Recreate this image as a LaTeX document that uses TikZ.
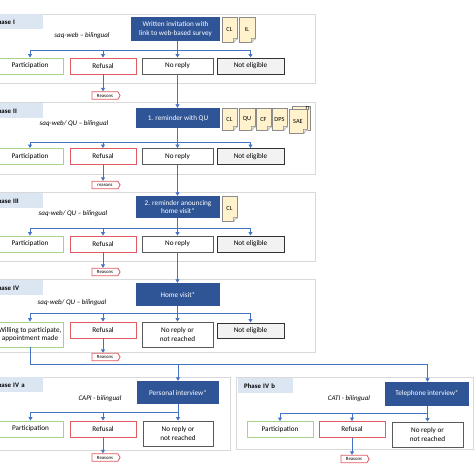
\documentclass[tikz,border=0pt]{standalone}
\usepackage{fontspec}
\setmainfont{Carlito}
\usetikzlibrary{arrows.meta,shapes.symbols}
\definecolor{navy}{HTML}{2F5597}
\definecolor{flowblue}{HTML}{4472C4}
\definecolor{lblue}{HTML}{DCE6F2}
\definecolor{pgreen}{HTML}{A9D18E}
\definecolor{rred}{HTML}{E05A61}
\definecolor{docfill}{HTML}{FFF2CC}
\tikzset{
	frame/.style={draw=black!15, line width=0.8pt},
	phaselbl/.style={fill=lblue, anchor=north west, text width=43pt, inner xsep=6pt, inner ysep=0pt, minimum height=15pt, align=left, font=\fontsize{6.8}{8}\selectfont\bfseries},
	mode/.style={font=\fontsize{7}{8}\selectfont\itshape},
	task/.style={fill=navy, text=white, inner sep=0pt, align=center, font=\fontsize{7.2}{8.6}\selectfont},
	res/.style={draw, fill=white, line width=0.9pt, inner sep=0pt, minimum width=66pt, minimum height=16pt, align=center, font=\fontsize{7.2}{8.6}\selectfont},
	part/.style={res, draw=pgreen},
	refu/.style={res, draw=rred},
	noreply/.style={res, draw=black!65, minimum width=71pt},
	noteligible/.style={res, draw=black!80, fill=black!5, line width=1pt, minimum width=67pt},
	doc/.style={draw=black!45, fill=docfill, line width=0.6pt, inner sep=0pt, minimum width=15pt, minimum height=25pt, font=\fontsize{6.3}{7}\selectfont},
	reasons/.style={signal, signal to=east, signal pointer angle=120, draw=rred, fill=white, line width=0.8pt, inner sep=0.5pt, minimum width=28pt, minimum height=7.5pt, font=\fontsize{4.8}{5}\selectfont},
	line/.style={draw=flowblue, line width=1pt},
	arr/.style={line, -{Triangle[width=4pt,length=3.5pt]}},
}

\begin{document}
\begin{tikzpicture}[x=1pt, y=-1pt]
		%%%%% START %%%%%
		\useasboundingbox[fill=white] (0,0) rectangle (474,474);
		
		% phase frames
		\draw[frame] (-12,14) rectangle (315,83);
		\draw[frame] (-12,102) rectangle (315,174);
		\draw[frame] (-12,192) rectangle (315,261);
		\draw[frame] (-12,279) rectangle (315,352);
		\draw[frame] (-12,377) rectangle (230,450);
		\draw[frame] (236,377) rectangle (473,449);
		
		\node[phaselbl] (ph1) at (-12,14) {Phase I};
		\node[phaselbl] (ph2) at (-12,103) {Phase II};
		\node[phaselbl] (ph3) at (-12,193) {Phase III};
		\node[phaselbl] (ph4) at (-12,280) {Phase IV};
		\node[phaselbl] (ph5) at (-12,377) {Phase IV a};
		\node[phaselbl] (ph6) at (238,378) {Phase IV b};
		
		\node[mode] (m1) at (82,36) {saq-web -- bilingual};
		\node[mode] (m2) at (74,124) {saq-web/ QU -- bilingual};
		\node[mode] (m3) at (73,214) {saq-web/ QU -- bilingual};
		\node[mode] (m4) at (72,303) {saq-web/ QU -- bilingual};
		\node[mode] (m5) at (100,399) {CAPI - bilingual};
		\node[mode] (m6) at (349,399) {CATI - bilingual};
		
		% contact steps
		\node[task, minimum width=89pt, minimum height=24pt] (b1) at (175.5,29) {Written invitation with\\link to web-based survey};
		\node[task, minimum width=84pt, minimum height=20pt] (b2) at (178,118) {1. reminder with QU};
		\node[task, minimum width=84pt, minimum height=22pt] (b3) at (178,207) {2. reminder anouncing\\home visit*};
		\node[task, minimum width=84pt, minimum height=23pt] (b4) at (178,294.5) {Home visit*};
		\node[task, minimum width=82pt, minimum height=23pt] (b5) at (178,392.5) {Personal interview*};
		\node[task, minimum width=84pt, minimum height=24pt] (b6) at (427,394) {Telephone interview*};
		
		% documents
		\node[doc] (cl1) at (229.5,29.5) {CL};
		\node[doc, minimum width=16pt] (il1) at (247,29.5) {IL};
		\node[doc, minimum height=22pt] (cl2) at (229.5,119) {CL};
		\node[doc, minimum width=16pt, minimum height=22pt] (qu2) at (247,119) {QU};
		\node[doc, minimum height=22pt] (cf2) at (263.5,119) {CF};
		\node[doc, minimum height=22pt] (dps2) at (279.5,119) {DPS};
		\node[doc, minimum width=18pt, minimum height=24pt] (d2) at (301,118) {};
		\node[font=\fontsize{6.3}{7}\selectfont, anchor=north east, inner sep=0.6pt] (d2t) at (d2.north east) {D};
		\node[doc, minimum width=18pt, minimum height=24pt] (sae2) at (298,121) {SAE};
		\node[doc] (cl3) at (229.5,208.5) {CL};
		\foreach \d in {cl1,il1,cl2,qu2,cf2,dps2,sae2,cl3}
		{
			\fill[white] ([xshift=-4.5pt]\d.south east) -- ([xshift=1pt,yshift=-1pt]\d.south east) -- ([yshift=4.5pt]\d.south east) -- cycle;
			\draw[black!45, fill=docfill!70!black!25, line width=0.5pt] ([xshift=-4pt]\d.south east) -- ([yshift=4pt]\d.south east) -- ([xshift=-4pt,yshift=4pt]\d.south east) -- cycle;
		}
		
		% phase I
		\node[part] (par1) at (30,66) {Participation};
		\node[refu] (ref1) at (103,66) {Refusal};
		\node[noreply] (nr1) at (177.5,66) {No reply};
		\node[noteligible] (ne1) at (250.5,66) {Not eligible};
		\node[reasons] (rs1) at (105,95.5) {Reasons};
		
		% phase II
		\node[part] (par2) at (30,156.5) {Participation};
		\node[refu] (ref2) at (103,156.5) {Refusal};
		\node[noreply] (nr2) at (177.5,156.5) {No reply};
		\node[noteligible] (ne2) at (250.5,156.5) {Not eligible};
		\node[reasons] (rs2) at (105,185) {reasons};
		
		% phase III
		\node[part] (par3) at (30,244) {Participation};
		\node[refu] (ref3) at (103,244) {Refusal};
		\node[noreply] (nr3) at (177.5,244) {No reply};
		\node[noteligible] (ne3) at (250.5,244) {Not eligible};
		\node[reasons] (rs3) at (105,272) {Reasons};
		
		% phase IV
		\node[part, minimum height=25pt] (will4) at (30,334.5) {Willing to participate,\\appointment made};
		\node[refu] (ref4) at (103,330) {Refusal};
		\node[noreply, minimum height=25pt] (nr4) at (177.5,334.5) {No reply or\\not reached};
		\node[noteligible, minimum height=15pt] (ne4) at (250.5,330.5) {Not eligible};
		\node[reasons] (rs4) at (105,357) {Reasons};
		
		% phase IV a
		\node[part] (par5) at (30.5,429) {Participation};
		\node[refu] (ref5) at (103,429) {Refusal};
		\node[noreply, minimum width=70pt, minimum height=25pt] (nr5) at (178,433.5) {No reply or\\not reached};
		\node[reasons] (rs5) at (105,457.5) {Reasons};
		
		% phase IV b
		\node[part] (par6) at (280,429.5) {Participation};
		\node[refu] (ref6) at (352,429.5) {Refusal};
		\node[noreply, minimum height=25pt] (nr6) at (427.5,434.5) {No reply or\\not reached};
		\node[reasons] (rs6) at (354,459) {Reasons};
		
		% branching
		\coordinate (j1) at (177.5,50);
		\coordinate (j2) at (177.5,142);
		\coordinate (j3) at (177.5,228);
		\coordinate (j4) at (177.5,313);
		\coordinate (j5) at (178,412);
		\coordinate (j6) at (427.5,413);
		\coordinate (k1) at (427.5,364);
		
		\foreach \n in {1,2,3}
		{
			\draw[arr] (b\n.south -| nr\n) -- (nr\n.north);
			\draw[arr] (j\n) -| (par\n.north);
			\draw[arr] (j\n) -| (ref\n.north);
			\draw[arr] (j\n) -| (ne\n.north);
			\draw[arr] (ref\n.south) -- (ref\n.south |- rs\n.north);
		}
		\draw[arr] (nr1.south) -- (nr1.south |- b2.north);
		\draw[arr] (nr2.south) -- (nr2.south |- b3.north);
		\draw[arr] (nr3.south) -- (nr3.south |- b4.north);
		
		\draw[arr] (b4.south -| nr4) -- (nr4.north);
		\draw[arr] (j4) -| (will4.north);
		\draw[arr] (j4) -| (ref4.north);
		\draw[arr] (j4) -| (ne4.north);
		\draw[arr] (ref4.south) -- (ref4.south |- rs4.north);
		
		\draw[arr] (will4.south) |- (k1) -- (k1 |- b6.north);
		\draw[arr] (b5.north |- k1) -- (b5.north);
		
		\draw[arr] (b5.south -| nr5) -- (nr5.north);
		\draw[arr] (j5) -| (par5.north);
		\draw[arr] (j5) -| (ref5.north);
		\draw[arr] (ref5.south) -- (ref5.south |- rs5.north);
		
		\draw[arr] (b6.south -| nr6) -- (nr6.north);
		\draw[arr] (j6) -| (par6.north);
		\draw[arr] (j6) -| (ref6.north);
		\draw[arr] (ref6.south) -- (ref6.south |- rs6.north);
		
		%%%%% END %%%%%
	\end{tikzpicture}
\end{document}
